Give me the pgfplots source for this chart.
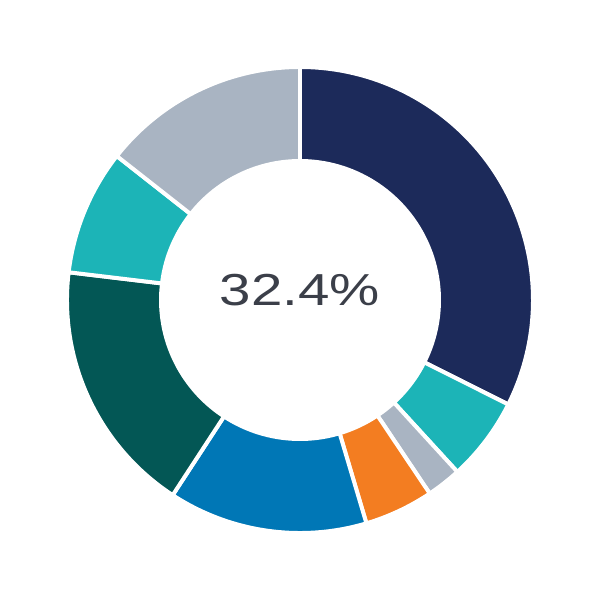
\documentclass[border=0pt]{standalone}
\usepackage{pgfplots}
\usepackage{pgfplotstable}
\pgfplotsset{compat=1.18}
\usepackage{fontspec}
\setmainfont{Liberation Sans}
\definecolor{slice0}{HTML}{1C2A5A}
\definecolor{slice1}{HTML}{1CB4B7}
\definecolor{slice2}{HTML}{A9B4C2}
\definecolor{slice3}{HTML}{F37D21}
\definecolor{slice4}{HTML}{0077B6}
\definecolor{slice5}{HTML}{035755}
\definecolor{slice6}{HTML}{1CB4B7}
\definecolor{slice7}{HTML}{A9B4C2}
\definecolor{textgray}{HTML}{3B3F49}
\pgfplotstableread{
share
32.4
5.8
2.4
4.8
13.8
17.7
8.7
14.4
}\donut
\begin{document}
\begin{tikzpicture}
\begin{axis}[hide axis, scale only axis, width=8cm, height=8cm,
  xmin=-300, xmax=300, ymin=-300, ymax=300, clip=false]
\addplot[draw=none] coordinates {(-300,-300) (300,300)};
\pgfmathsetmacro\cum{0}
\pgfplotsforeachungrouped \i in {0,...,7}{
  \pgfplotstablegetelem{\i}{share}\of\donut
  \pgfmathsetmacro\a{\cum*3.6}
  \pgfmathsetmacro\b{(\cum+\pgfplotsretval)*3.6}
  \pgfmathsetmacro\cum{\cum+\pgfplotsretval}
  \edef\doslice{\noexpand\addplot[fill=slice\i, draw=white, line width=1.5pt, line join=round, domain=\a:\b, samples=90]
     ({233*sin(x)},{233*cos(x)}) -- (axis cs:0,0) -- cycle;}
  \doslice
}
\addplot[fill=white, draw=none, domain=0:360, samples=180] ({141*sin(x)},{141*cos(x)}) -- cycle;
\node[font=\fontsize{17}{20}\selectfont, text=textgray, xscale=1.26] at (axis cs:0,10) {32.4\%};
\end{axis}
\end{tikzpicture}
\end{document}
